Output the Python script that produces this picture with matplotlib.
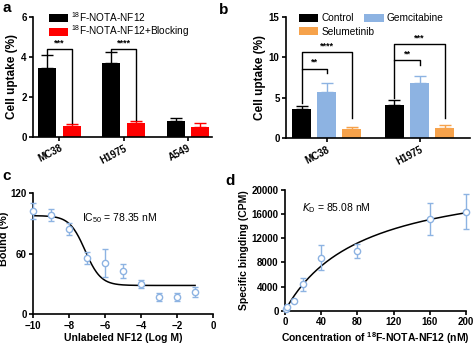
import numpy as np
import matplotlib
matplotlib.use('Agg')
import matplotlib.pyplot as plt

plt.rcParams['font.family'] = ['Liberation Sans', 'DejaVu Sans']
plt.rcParams['font.size'] = 7
plt.rcParams['axes.labelweight'] = 'bold'
plt.rcParams['axes.labelsize'] = 7.5
plt.rcParams['axes.labelpad'] = 2
plt.rcParams['axes.linewidth'] = 1.2
plt.rcParams['xtick.major.width'] = 1.2
plt.rcParams['ytick.major.width'] = 1.2
plt.rcParams['xtick.major.size'] = 3
plt.rcParams['ytick.major.size'] = 3
plt.rcParams['xtick.major.pad'] = 1.5
plt.rcParams['ytick.major.pad'] = 1.5
plt.rcParams['mathtext.default'] = 'regular'

# panel a
a_cells = ['MC38', 'H1975', 'A549']
a_ctrl = [3.45, 3.7, 0.78]
a_ctrl_err = [0.65, 0.57, 0.17]
a_block = [0.55, 0.68, 0.52]
a_block_err = [0.12, 0.12, 0.2]

# panel b
b_cells = ['MC38', 'H1975']
b_ctrl = [3.6, 4.05]
b_ctrl_err = [0.38, 0.65]
b_gem = [5.74, 6.78]
b_gem_err = [1.05, 0.95]
b_sel = [1.1, 1.24]
b_sel_err = [0.3, 0.4]

# panel c
c_logx = [-10, -9, -8, -7, -6, -5, -4, -3, -2, -1]
c_bound = [102, 98.4, 84, 56, 51, 43, 30, 17.4, 17.4, 21.6]
c_err = [8, 6, 6, 6, 14, 7, 4, 4, 4, 5]
c_top, c_bottom, c_logic50 = 97.5, 28.5, np.log10(78.35e-9)

# panel d
d_conc = [1.25, 2.5, 10, 20, 40, 80, 160, 200]
d_bind = [250, 600, 1600, 4400, 8800, 9900, 15200, 16400]
d_err = [0, 0, 0, 1050, 2100, 1100, 2600, 2900]
d_kd, d_bmax = 85.08, 23090

blue = '#8db3e2'
orange = '#f6a24b'

fig = plt.figure(figsize=(4.74, 3.45), dpi=100)

def style(ax):
    ax.spines['top'].set_visible(False)
    ax.spines['right'].set_visible(False)
    for t in ax.get_xticklabels() + ax.get_yticklabels():
        t.set_fontweight('bold')

def bracket(ax, x1, x2, y, y1, y2, txt):
    ax.plot([x1, x1, x2, x2], [y1, y, y, y2], color='black', lw=1.0)
    ax.text((x1 + x2) / 2, y + 0.015 * ax.get_ylim()[1], txt, ha='center', va='bottom',
            fontsize=6.5, fontweight='bold')

# ---- a
ax = fig.add_axes([0.0696, 0.603, 0.378, 0.348])
x = np.arange(len(a_cells))
off, w = 0.19, 0.28
ax.bar(x - off, a_ctrl, w, color='black', label='$^{18}$F-NOTA-NF12')
ax.bar(x + off, a_block, w, color='#ff0000', label='$^{18}$F-NOTA-NF12+Blocking')
ax.errorbar(x - off, a_ctrl, yerr=[np.zeros(3), a_ctrl_err], fmt='none', ecolor='black', capsize=4, lw=1)
ax.errorbar(x + off, a_block, yerr=[np.zeros(3), a_block_err], fmt='none', ecolor='#ff0000', capsize=4, lw=1)
ax.set_xlim(-0.41, 2.38)
ax.set_ylim(0, 6)
ax.set_yticks([0, 2, 4, 6])
ax.set_xticks(x)
ax.set_xticklabels(a_cells, rotation=28, ha='right', rotation_mode='anchor')
ax.set_ylabel('Cell uptake (%)', fontsize=8.5)
bracket(ax, -off, off, 4.4, 4.15, 0.72, '***')
bracket(ax, 1 - off, 1 + off, 4.4, 4.3, 0.85, '****')
ax.legend(loc='upper left', bbox_to_anchor=(0.06, 1.1), frameon=False, fontsize=7.2,
          handlelength=1.9, handleheight=0.85, borderpad=0, labelspacing=0.0, handletextpad=0.3)
style(ax)

# ---- b
ax = fig.add_axes([0.603, 0.6, 0.388, 0.351])
x = np.arange(len(b_cells))
off, w = 0.27, 0.2
ax.bar(x - off, b_ctrl, w, color='black', label='Control')
ax.bar(x, b_gem, w, color=blue, label='Gemcitabine')
ax.bar(x + off, b_sel, w, color=orange, label='Selumetinib')
ax.errorbar(x - off, b_ctrl, yerr=[np.zeros(2), b_ctrl_err], fmt='none', ecolor='black', capsize=4, lw=1)
ax.errorbar(x, b_gem, yerr=[np.zeros(2), b_gem_err], fmt='none', ecolor=blue, capsize=4, lw=1)
ax.errorbar(x + off, b_sel, yerr=[np.zeros(2), b_sel_err], fmt='none', ecolor=orange, capsize=4, lw=1)
ax.set_xlim(-0.44, 1.54)
ax.set_ylim(0, 15)
ax.set_yticks([0, 5, 10, 15])
ax.set_xticks(x)
ax.set_xticklabels(b_cells, rotation=28, ha='right', rotation_mode='anchor')
ax.set_ylabel('Cell uptake (%)', fontsize=8.5)
bracket(ax, -off, 0, 8.6, 4.3, 8.1, '**')
bracket(ax, -off, off, 10.65, 8.6, 2.5, '****')
bracket(ax, 1 - off, 1, 9.6, 5.0, 9.1, '**')
bracket(ax, 1 - off, 1 + off, 11.65, 9.6, 2.5, '***')
h, l = ax.get_legend_handles_labels()
ax.legend([h[0], h[2], h[1]], [l[0], l[2], l[1]], ncol=2, loc='upper left',
          bbox_to_anchor=(0.045, 1.07), frameon=False, fontsize=7.3, handlelength=1.9,
          handleheight=0.85, borderpad=0, labelspacing=0.3, columnspacing=-1.0, handletextpad=0.3)
style(ax)

# ---- c
ax = fig.add_axes([0.0696, 0.089, 0.38, 0.352])
xx = np.linspace(-10, -1, 300)
ax.plot(xx, c_bottom + (c_top - c_bottom) / (1 + 10 ** (xx - c_logic50)), color='black', lw=1.1)
ax.errorbar(c_logx, c_bound, yerr=c_err, fmt='o', mfc='white', mec=blue, ecolor=blue,
            ms=4.5, mew=1.0, capsize=2.5, lw=1.0, clip_on=False, zorder=3)
ax.set_xlim(-10, 0)
ax.set_ylim(0, 120)
ax.set_yticks([0, 60, 120])
ax.set_xticks([-10, -8, -6, -4, -2, 0])
ax.set_ylabel('Bound (%)', fontsize=7.8)
ax.yaxis.set_label_coords(-0.135, 0.62)
ax.set_xlabel('Unlabeled NF12 (Log M)')
ax.text(-7.3, 95, 'IC$_{50}$ = 78.35 nM', fontsize=7.5, va='center')
style(ax)

# ---- d
ax = fig.add_axes([0.601, 0.099, 0.382, 0.351])
xx = np.linspace(0, 200, 300)
ax.plot(xx, d_bmax * xx / (d_kd + xx), color='black', lw=1.1)
ax.errorbar(d_conc, d_bind, yerr=d_err, fmt='o', mfc='white', mec=blue, ecolor=blue,
            ms=4.5, mew=1.0, capsize=2.5, lw=1.0, clip_on=False, zorder=3)
ax.set_xlim(0, 200)
ax.set_ylim(0, 20000)
ax.set_yticks(np.arange(0, 20001, 4000))
ax.set_xticks(np.arange(0, 201, 40))
ax.set_ylabel('Specific bingding (CPM)')
ax.set_xlabel('Concentration of $^{18}$F-NOTA-NF12 (nM)')
ax.text(19, 17000, '$\\mathit{K}_D$ = 85.08 nM', fontsize=7.5, va='center')
style(ax)

for s, px, py in [('a', 0.005, 0.998), ('b', 0.462, 0.99), ('c', 0.005, 0.51), ('d', 0.475, 0.495)]:
    fig.text(px, py, s, fontsize=11, fontweight='bold', va='top')

fig.savefig('out.png', dpi=100)
